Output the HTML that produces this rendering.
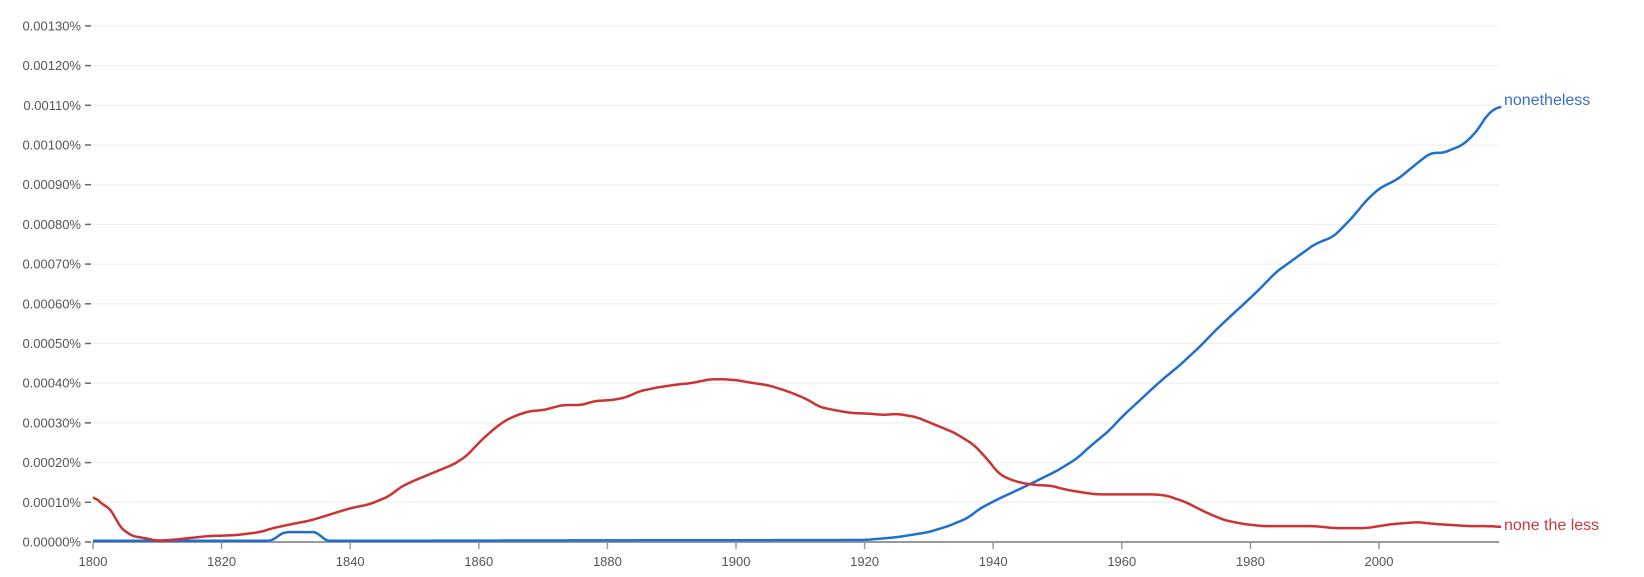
<!DOCTYPE html>
<html><head><meta charset="utf-8"><style>
html,body{margin:0;padding:0;background:#fff;width:1644px;height:577px;overflow:hidden}
svg{display:block;font-family:"Liberation Sans",sans-serif}
</style></head><body>
<svg id="c" width="1644" height="577" xmlns="http://www.w3.org/2000/svg"></svg>
<script>
const s=document.getElementById('c');
const X=y=>93+6.43*(y-1800), Y=v=>542-39.7*v;
let h='';
for(let i=0;i<=13;i++){const y=Y(i);
 if(i>0)h+=`<line x1="93" x2="1499" y1="${y}" y2="${y}" stroke="#eeeeee" stroke-width="1"/>`;
 h+=`<line x1="85" x2="91" y1="${y}" y2="${y}" stroke="#666" stroke-width="1.5"/>`;
 h+=`<text x="81" y="${y+4.5}" text-anchor="end" font-size="13" fill="#555">${(i*0.0001).toFixed(5)}%</text>`;}
h+=`<line x1="93" x2="1499" y1="542" y2="542" stroke="#999" stroke-width="2"/>`;
for(let yr=1800;yr<=2000;yr+=20){const x=X(yr);
 h+=`<line x1="${x}" x2="${x}" y1="542" y2="549" stroke="#999" stroke-width="1.5"/>`;
 h+=`<text x="${x}" y="566" text-anchor="middle" font-size="13" fill="#555">${yr}</text>`;}
const red=[[1800,1.2],[1801,1.0],[1803,0.8],[1804,0.4],[1806,0.15],[1808,0.1],[1810,0.03],[1812,0.05],[1815,0.1],[1818,0.15],[1822,0.17],[1826,0.25],[1828,0.35],[1830,0.42],[1834,0.55],[1836,0.65],[1840,0.85],[1843,0.95],[1846,1.15],[1848,1.4],[1850,1.55],[1853,1.75],[1856,1.95],[1858,2.15],[1860,2.5],[1862,2.8],[1864,3.05],[1866,3.2],[1868,3.3],[1870,3.32],[1873,3.45],[1876,3.45],[1878,3.55],[1881,3.58],[1883,3.65],[1885,3.8],[1888,3.9],[1891,3.97],[1893,4.0],[1896,4.1],[1898,4.1],[1900,4.08],[1902,4.02],[1905,3.95],[1908,3.8],[1911,3.6],[1913,3.4],[1916,3.3],[1918,3.25],[1921,3.23],[1923,3.2],[1925,3.23],[1928,3.15],[1931,2.95],[1934,2.75],[1937,2.45],[1939,2.1],[1941,1.7],[1943,1.55],[1945,1.47],[1947,1.43],[1949,1.42],[1951,1.33],[1953,1.27],[1956,1.2],[1959,1.2],[1962,1.2],[1965,1.2],[1967,1.17],[1970,1.0],[1973,0.75],[1976,0.55],[1979,0.45],[1982,0.4],[1985,0.4],[1990,0.4],[1993,0.35],[1998,0.35],[2002,0.45],[2006,0.5],[2009,0.45],[2012,0.42],[2014,0.4],[2017,0.4],[2019,0.38]];
const blue=[[1800,0.03],[1828,0.03],[1829,0.2],[1830,0.25],[1835,0.25],[1836,0.03],[1920,0.05],[1925,0.12],[1930,0.25],[1933,0.4],[1936,0.6],[1938,0.85],[1941,1.1],[1945,1.4],[1950,1.8],[1953,2.1],[1955,2.4],[1958,2.8],[1960,3.15],[1963,3.6],[1966,4.05],[1969,4.45],[1972,4.9],[1975,5.4],[1978,5.85],[1981,6.3],[1984,6.8],[1987,7.15],[1990,7.5],[1993,7.7],[1996,8.2],[1998,8.6],[2000,8.9],[2003,9.15],[2006,9.55],[2008,9.8],[2010,9.8],[2013,10.0],[2015,10.3],[2017,10.8],[2019,11.0]];
function pts(d){const st=0.25,ys=[],vs=[];let k=0;
 for(let t=1800;t<=2019+1e-9;t+=st){while(k<d.length-2&&d[k+1][0]<t)k++;const a=d[k],b=d[k+1];const f=Math.min(1,Math.max(0,(t-a[0])/(b[0]-a[0])));ys.push(t);vs.push(a[1]+(b[1]-a[1])*f);}
 const w=3,out=[];for(let i=0;i<vs.length;i++){let sm=0,n=0;for(let j=i-w;j<=i+w;j++){if(j>=0&&j<vs.length){sm+=vs[j];n++;}}out.push(X(ys[i]).toFixed(1)+','+Y(sm/n).toFixed(1));}
 return out.join(' ');}
const path=(d,c)=>`<polyline fill="none" stroke="${c}" stroke-width="2.5" stroke-linejoin="round" points="${pts(d)}"/>`;
h+=path(blue,'#1f6fcf')+path(red,'#cc3333');
h+=`<text x="1504" y="105" font-size="16" fill="#3a6fc4">nonetheless</text>`;
h+=`<text x="1504" y="530" font-size="16" fill="#c63a3a">none the less</text>`;
s.innerHTML=h;
</script>
</body></html>
